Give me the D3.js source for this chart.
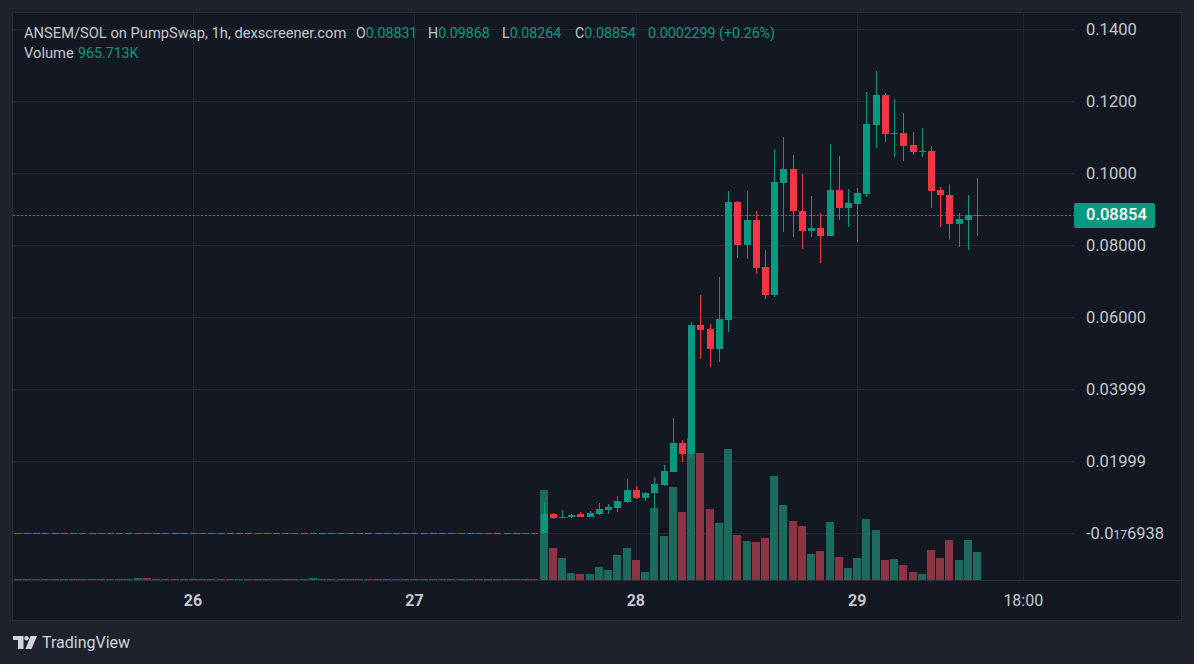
<!DOCTYPE html>
<html>
<head>
<meta charset="utf-8">
<script src="https://cdn.jsdelivr.net/npm/d3@7"></script>
<style>
  body { margin: 0; background: #1e222d; }
  svg { display: block; font-family: Roboto, sans-serif; }
</style>
</head>
<body>
<div id="chart"></div>
<script>
// hours are counted from the 26th, 00:00
var firstFlatHour = -19;
// near-zero candles before launch: 1 = green, 0 = red
var flatUp = [1,0,0,0,0,0,1,1,1,1,0,1,1,1,0,1,0,0,0,1,1,0,0,1,0,1,1,0,0,
              1,1,0,1,0,0,0,1,1,0,0,0,0,0,0,0,0,0,0,1,0,0,1,0,1,1,1,0];
var flatVolume = [30,30,30,30,30,30,30,30,30,30,30,30,30,70,70,30,30,30,30,30,30,30,30,30,30,30,30,30,30,
                  30,30,30,70,30,30,30,30,30,30,30,30,30,30,30,30,30,30,30,30,30,30,30,30,30,30,30,30];

var firstHour = 38;
var open  = [0.00001,0.0055,0.0044,0.0044,0.0053,0.0045,0.0053,0.0065,0.0069,0.0086,
             0.0119,0.0097,0.0111,0.0133,0.0169,0.0252,0.0219,0.0578,0.0567,0.0512,
             0.0592,0.0921,0.0802,0.0871,0.0739,0.0661,0.0974,0.1012,0.0896,0.0841,
             0.0847,0.0827,0.0954,0.0905,0.0916,0.0943,0.1134,0.1217,0.1108,0.1111,
             0.1080,0.1058,0.1063,0.0954,0.0941,0.0858,0.0870,0.08831];
var high  = [0.0086,0.0057,0.0064,0.0053,0.0058,0.0061,0.0083,0.0080,0.0105,0.0152,
             0.0130,0.0116,0.0155,0.0191,0.0320,0.0260,0.0586,0.0661,0.0581,0.0711,
             0.0952,0.0924,0.0952,0.0896,0.0786,0.1068,0.1101,0.1051,0.0999,0.0938,
             0.0891,0.1082,0.1048,0.0957,0.0960,0.1225,0.1284,0.1223,0.1206,0.1167,
             0.1115,0.1126,0.1077,0.0963,0.0968,0.0889,0.0939,0.09868];
var low   = [0.0000,0.0041,0.0042,0.0042,0.0044,0.0044,0.0052,0.0055,0.0060,0.0085,
             0.0094,0.0091,0.0058,0.0130,0.0169,0.0199,0.0213,0.0484,0.0462,0.0476,
             0.0559,0.0766,0.0763,0.0719,0.0650,0.0656,0.0838,0.0824,0.0791,0.0822,
             0.0750,0.0826,0.0869,0.0852,0.0810,0.0935,0.1071,0.1087,0.1046,0.1034,
             0.1050,0.1045,0.0903,0.0850,0.0818,0.0795,0.0787,0.08264];
var close = [0.0055,0.0042,0.0046,0.0052,0.0045,0.0056,0.0067,0.0072,0.0089,0.0119,
             0.0097,0.0113,0.0136,0.0172,0.0252,0.0219,0.0578,0.0564,0.0512,0.0595,
             0.0921,0.0802,0.0871,0.0736,0.0661,0.0976,0.1012,0.0894,0.0841,0.0847,
             0.0827,0.0954,0.0905,0.0918,0.0946,0.1137,0.1217,0.1109,0.1111,0.1077,
             0.1058,0.1063,0.0952,0.0939,0.0858,0.0872,0.0883,0.08854];
// volume in thousands
var volume = [3104,1104,759,241,207,207,448,345,862,1104,
              690,276,2483,1518,3208,2345,4898,4380,2449,1966,
              4518,1552,1345,1311,1449,3587,2587,2035,1862,897,
              1000,2000,793,414,759,2104,1724,690,724,517,
              276,207,1035,759,1380,690,1380,965.713];

var dayTickHours = [0, 24, 48, 72, 90];
var dayTickLabels = ['26', '27', '28', '29', '18:00'];
var priceTicks = [0.14, 0.12, 0.10, 0.08, 0.06, 0.04, 0.02, 0];
var priceTickLabels = ['0.1400', '0.1200', '0.1000', '0.08000', '0.06000', '0.03999', '0.01999', '-0.0|17|6938'];
var lastPrice = 0.08854;

var width = 1194;
var height = 664;
var upColor = '#089981';
var downColor = '#f23645';
var upVolColor = '#1d6a5e';
var downVolColor = '#8a3541';
var gridColor = '#232733';
var textColor = '#c4c7cf';

var pane = { left: 13, right: 1074, top: 13, bottom: 580 };

var svg = d3.select('#chart')
  .append('svg')
  .attr('width', width)
  .attr('height', height);

// frame
svg.append('rect')
  .attr('x', 12.5).attr('y', 12.5)
  .attr('width', 1169).attr('height', 608)
  .attr('fill', '#141823')
  .attr('stroke', '#2a2e39');

var x = d3.scaleLinear().domain([0, 90]).range([193, 1023.3]);
var y = d3.scaleLinear().domain([0, 0.14]).range([533.3, 29.3]);
var yVol = d3.scaleLinear().domain([0, 5000]).range([580, 435]);

// build bars
var bars = [];
flatUp.forEach(function(u, i) {
  bars.push({ hour: firstFlatHour + i, o: 0, h: 0, l: 0, c: 0, up: u === 1, vol: flatVolume[i] });
});
open.forEach(function(o, i) {
  bars.push({ hour: firstHour + i, o: o, h: high[i], l: low[i], c: close[i], up: close[i] >= o, vol: volume[i] });
});

// grid
var gridGroup = svg.append('g');
gridGroup.selectAll('line.h')
  .data(priceTicks)
  .enter()
  .append('line')
  .attr('x1', pane.left).attr('x2', pane.right)
  .attr('y1', function(d) { return Math.round(y(d)) + 0.5; })
  .attr('y2', function(d) { return Math.round(y(d)) + 0.5; })
  .attr('stroke', gridColor);
gridGroup.selectAll('line.v')
  .data(dayTickHours)
  .enter()
  .append('line')
  .attr('x1', function(d) { return Math.round(x(d)) + 0.5; })
  .attr('x2', function(d) { return Math.round(x(d)) + 0.5; })
  .attr('y1', pane.top).attr('y2', pane.bottom)
  .attr('stroke', gridColor);

// volume
svg.append('g').selectAll('rect')
  .data(bars)
  .enter()
  .append('rect')
  .attr('x', function(d) { return Math.round(x(d.hour)) - 4; })
  .attr('width', 8)
  .attr('y', function(d) { return Math.min(579, Math.round(yVol(d.vol))); })
  .attr('height', function(d) { return 580 - Math.min(579, Math.round(yVol(d.vol))); })
  .attr('fill', function(d) { return d.up ? upVolColor : downVolColor; });

// last price line
svg.append('line')
  .attr('x1', pane.left).attr('x2', pane.right)
  .attr('y1', Math.round(y(lastPrice)) + 0.5)
  .attr('y2', Math.round(y(lastPrice)) + 0.5)
  .attr('stroke', upColor)
  .attr('stroke-dasharray', '2,2');

// candles
var candles = svg.append('g').selectAll('g')
  .data(bars)
  .enter()
  .append('g');
candles.append('rect')
  .attr('x', function(d) { return Math.round(x(d.hour)); })
  .attr('width', 1)
  .attr('y', function(d) { return Math.round(y(d.h)); })
  .attr('height', function(d) { return Math.max(1, Math.round(y(d.l)) - Math.round(y(d.h))); })
  .attr('fill', function(d) { return d.up ? upColor : downColor; });
candles.append('rect')
  .attr('x', function(d) { return Math.round(x(d.hour)) - 3; })
  .attr('width', 7)
  .attr('y', function(d) { return Math.round(y(Math.max(d.o, d.c))); })
  .attr('height', function(d) {
    return Math.max(1, Math.round(y(Math.min(d.o, d.c))) - Math.round(y(Math.max(d.o, d.c))));
  })
  .attr('fill', function(d) { return d.up ? upColor : downColor; });

// pane borders
svg.append('line')
  .attr('x1', 13).attr('x2', 1181)
  .attr('y1', 580.5).attr('y2', 580.5)
  .attr('stroke', '#2a2e39');

// price axis
var priceAxis = svg.append('g')
  .attr('font-size', '16.5px')
  .attr('fill', textColor);
priceAxis.selectAll('text')
  .data(priceTicks)
  .enter()
  .append('text')
  .attr('x', 1086)
  .attr('y', function(d) { return y(d); })
  .attr('dy', '0.36em')
  .each(function(d, i) {
    var parts = priceTickLabels[i].split('|');
    var t = d3.select(this);
    t.append('tspan').text(parts[0]);
    if (parts.length > 1) {
      t.append('tspan').attr('font-size', '12px').text(parts[1]);
      t.append('tspan').text(parts[2]);
    }
  });

// last price label
svg.append('rect')
  .attr('x', 1074).attr('y', Math.round(y(lastPrice)) - 12)
  .attr('width', 81).attr('height', 25)
  .attr('rx', 2)
  .attr('fill', upColor);
svg.append('text')
  .attr('x', 1086)
  .attr('y', y(lastPrice))
  .attr('dy', '0.36em')
  .attr('font-size', '16.5px')
  .attr('font-weight', 500)
  .attr('fill', '#ffffff')
  .text(d3.format('.5f')(lastPrice));

// time axis
svg.append('g').selectAll('text')
  .data(dayTickHours)
  .enter()
  .append('text')
  .attr('x', function(d) { return x(d); })
  .attr('y', 600)
  .attr('dy', '0.36em')
  .attr('text-anchor', 'middle')
  .attr('font-size', '16px')
  .attr('font-weight', function(d, i) { return dayTickLabels[i].indexOf(':') < 0 ? 700 : 400; })
  .attr('fill', textColor)
  .text(function(d, i) { return dayTickLabels[i]; });

// legend
var legend = svg.append('g').attr('font-size', '14.2px');
var line1 = legend.append('text').attr('x', 24).attr('y', 38).attr('fill', textColor);
line1.append('tspan').attr('font-size', '14.7px').text('ANSEM/SOL on PumpSwap, 1h, dexscreener.com');
var ohlc = [['O', open[open.length - 1], 356], ['H', high[high.length - 1], 428],
            ['L', low[low.length - 1], 502], ['C', close[close.length - 1], 575]];
ohlc.forEach(function(p) {
  line1.append('tspan').attr('x', p[2]).text(p[0]);
  line1.append('tspan').attr('fill', upColor).text(d3.format('.5f')(p[1]));
});
line1.append('tspan').attr('x', 648).attr('fill', upColor).text('0.0002299 (+0.26%)');
var line2 = legend.append('text').attr('x', 24).attr('y', 58).attr('fill', textColor);
line2.append('tspan').attr('font-size', '14.7px').text('Volume');
line2.append('tspan').attr('x', 78).attr('fill', upColor).text(d3.format('.6~')(volume[volume.length - 1]) + 'K');

// TradingView logo
var logo = svg.append('g').attr('fill', '#d1d4dc');
logo.append('path').attr('d', 'M13,636 H23.5 V649 H18 V640 H13 Z');
logo.append('circle').attr('cx', 26.5).attr('cy', 638.2).attr('r', 2.2);
logo.append('path').attr('d', 'M30.5,636 H37 L31.5,649 H25.5 Z');
logo.append('text')
  .attr('x', 42).attr('y', 648)
  .attr('font-size', '16px')
  .text('TradingView');
</script>
</body>
</html>
